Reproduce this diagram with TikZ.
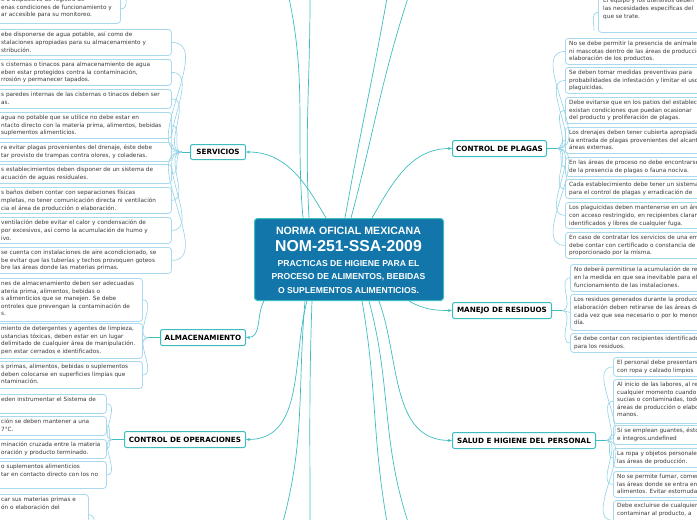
\documentclass[tikz,border=0pt]{standalone}
\usepackage{fontspec}
\setmainfont{DejaVu Sans}
\newfontfamily\arialf{Liberation Sans}
\usetikzlibrary{arrows.meta,calc}
\definecolor{teal1}{HTML}{3DBDC0}
\definecolor{leafc}{HTML}{A9D9EE}
\definecolor{centc}{HTML}{1276AA}
\definecolor{txt}{HTML}{3A3A3A}
\newcommand\leaf[7]{%
  \node[leafbox,minimum width=#4,minimum height=#5,anchor=north west] (#1) at (#2,#3) {};
  \node[leaftext,anchor=north west] at (#6,#3+3) {#7};}
\begin{document}
\begin{tikzpicture}[x=1pt,y=-1pt,
  leafbox/.style={draw=leafc,line width=0.8pt,rounded corners=3pt,fill=white,inner sep=0},
  leaftext/.style={font=\fontsize{5.75}{7.6}\selectfont,text=txt,align=left,inner sep=0},
  branch/.style={draw=teal1,line width=1pt,rounded corners=2pt,fill=white,inner sep=0,
    font=\fontsize{7.2}{8}\selectfont\bfseries,anchor=north west},
  lk/.style={draw=leafc!80!teal1,line width=0.6pt},
  arr/.style={draw=teal1,line width=0.7pt,-{Stealth[length=4pt,width=3pt]}},
  ln/.style={draw=teal1,line width=0.7pt},
  ctext/.style={text=white,inner sep=0}]
\useasboundingbox (0,0) rectangle (697,520);
\clip (0,0) rectangle (697,520);
% center
\node[draw=teal1,line width=1pt,fill=centc,rounded corners=3pt,minimum width=189,minimum height=82,anchor=north west,inner sep=0] (c) at (254,218) {};
\node[ctext,font=\arialf\bfseries\fontsize{10.6}{12}\selectfont] (c1) at (348.5,231) {NORMA OFICIAL MEXICANA};
\node[ctext,font=\arialf\bfseries\fontsize{15.8}{17}\selectfont] (c2) at (348.5,246) {NOM-251-SSA-2009};
\node[ctext,font=\arialf\bfseries\fontsize{8.6}{13.5}\selectfont,align=center] (c3) at (348.5,277) {PRACTICAS DE HIGIENE PARA EL\\PROCESO DE ALIMENTOS, BEBIDAS\\O SUPLEMENTOS ALIMENTICIOS.};
% branch nodes
\node[branch,minimum width=55,minimum height=15] (serv) at (190,144) {SERVICIOS};
\node[branch,minimum width=85,minimum height=16] (alm) at (160,329) {ALMACENAMIENTO};
\node[branch,minimum width=121,minimum height=16] (ops) at (124,431) {CONTROL DE OPERACIONES};
\node[branch,minimum width=94,minimum height=16] (plag) at (452,140) {CONTROL DE PLAGAS};
\node[branch,minimum width=99,minimum height=16] (res) at (452,302) {MANEJO DE RESIDUOS};
\node[branch,minimum width=143,minimum height=16] (sal) at (452,432) {SALUD E HIGIENE DEL PERSONAL};
% center arrows
\draw[arr] ([xshift=-23pt]c.north) to[out=120,in=0] (serv.east);
\draw[arr] ([xshift=23pt]c.north) to[out=60,in=180] (plag.west);
\draw[arr] ([xshift=-85pt]c.south) to[out=-120,in=0] (alm.east);
\draw[arr] ([xshift=-42pt]c.south) to[out=-105,in=0] (ops.east);
\draw[arr] ([xshift=60pt]c.south) to[out=-30,in=180] (res.west);
\draw[arr] ([xshift=30pt]c.south) to[out=-70,in=180] (sal.west);
% long lines off canvas
\coordinate (t1) at (289,-2); \coordinate (t2) at (310,-2);
\coordinate (t3) at (387,-2); \coordinate (t4) at (408,-2);
\coordinate (b1) at (283,522); \coordinate (b2) at (310,522);
\coordinate (b3) at (387,522); \coordinate (b4) at (408,522);
\draw[ln] ([xshift=-46pt]c.north) to[out=95,in=-78] (t1);
\draw[ln] ([xshift=-40pt]c.north) to[out=93,in=-90] (t2);
\draw[ln] ([xshift=-4pt]c.north) to[out=80,in=-100] (t3);
\draw[ln] ([xshift=2pt]c.north) to[out=75,in=-108] (t4);
\draw[ln] ([xshift=-44pt]c.south) to[out=-95,in=75] (b1);
\draw[ln] ([xshift=-37pt]c.south) to[out=-92,in=90] (b2);
\draw[ln] ([xshift=13pt]c.south) to[out=-80,in=100] (b3);
\draw[ln] ([xshift=20pt]c.south) to[out=-75,in=108] (b4);
% SERVICIOS leaves
\leaf{s0}{-150}{-6}{270}{29}{1}{e o dispositivo de registro de\\enas condiciones de funcionamiento y\\ar accesible para su monitoreo.}
\leaf{s1}{-150}{29}{321}{26}{1}{ebe disponerse de agua potable, así como de\\stalaciones apropiadas para su almacenamiento y\\stribución.}
\leaf{s2}{-150}{59}{321}{26}{1}{s cisternas o tinacos para almacenamiento de agua\\eben estar protegidos contra la contaminación,\\rrosión y permanecer tapados.}
\leaf{s3}{-150}{89}{321}{19}{1}{s paredes internas de las cisternas o tinacos deben ser\\as.}
\leaf{s4}{-150}{112}{321}{26}{1}{ agua no potable que se utilice no debe estar en\\ntacto directo con la materia prima, alimentos, bebidas\\suplementos alimenticios.}
\leaf{s5}{-150}{142}{321}{19}{1}{ra evitar plagas provenientes del drenaje, éste debe\\tar provisto de trampas contra olores, y coladeras.}
\leaf{s6}{-150}{164}{321}{19}{1}{s establecimientos deben disponer de un sistema de\\acuación de aguas residuales.}
\leaf{s7}{-150}{187}{321}{26}{1}{s baños deben contar con separaciones físicas\\mpletas, no tener comunicación directa ni ventilación\\cia el área de producción o elaboración.}
\leaf{s8}{-150}{217}{321}{26}{1}{ ventilación debe evitar el calor y condensación de\\por excesivos, así como la acumulación de humo y\\ivo.}
\leaf{s9}{-150}{247}{321}{26}{1}{ se cuenta con instalaciones de aire acondicionado, se\\be evitar que las tuberías y techos provoquen goteos\\bre las áreas donde las materias primas.}
\coordinate (sp) at ($(serv.west)+(-8,0)$);
\draw[ln] (serv.west) -- (sp);
\foreach \b in {s1,s2,s3,s4,s5,s6,s7,s8,s9} \draw[lk] (sp) to[out=180,in=0] (\b.east);
\draw[lk] (s0.east) to[out=0,in=-90] ++(4,-23);
% ALMACENAMIENTO leaves
\leaf{a1}{-150}{278}{292}{43}{1}{nes de almacenamiento deben ser adecuadas\\ateria prima, alimentos, bebidas o\\s alimenticios que se manejen. Se debe\\ontroles que prevengan la contaminación de\\s.}
\leaf{a2}{-150}{323}{292}{35}{1}{miento de detergentes y agentes de limpieza,\\ustancias tóxicas, deben estar en un lugar\\delimitado de cualquier área de manipulación.\\pen estar cerrados e identificados.}
\leaf{a3}{-150}{361}{292}{27}{1}{s primas, alimentos, bebidas o suplementos\\ deben colocarse en superficies limpias que\\ntaminación.}
\coordinate (ap) at ($(alm.west)+(-12,0)$);
\draw[ln] (alm.west) -- (ap);
\foreach \b in {a1,a2,a3} \draw[lk] (ap) to[out=180,in=0] (\b.east);
% CONTROL DE OPERACIONES leaves
\leaf{o1}{-150}{394}{256}{19}{1}{eden instrumentar el Sistema de}
\leaf{o2}{-150}{416}{256}{19}{1}{ción se deben mantener a una\\ 7°C.}
\leaf{o3}{-150}{439}{256}{19}{1}{minación cruzada entre la materia\\oración y producto terminado.}
\leaf{o4}{-150}{461}{256}{27}{1}{o suplementos alimenticios\\tar en contacto directo con los no}
\leaf{o5}{-150}{494}{238}{40}{1}{car sus materias primas e\\ón o elaboración del}
\coordinate (op) at ($(ops.west)+(-12,0)$);
\draw[ln] (ops.west) -- (op);
\foreach \b in {o1,o2,o3,o4} \draw[lk] (op) to[out=180,in=0] (\b.east);
\draw[lk] (o5.east) to[out=0,in=-90] ++(4,30);
% CONTROL DE PLAGAS leaves
\leaf{p0}{598}{-8}{200}{40}{603}{\\El equipo y los utensilios deben\\las necesidades específicas del\\que se trate.}
\leaf{p1}{565}{38}{200}{26}{569}{No se debe permitir la presencia de animales\\ni mascotas dentro de las áreas de producción\\elaboración de los productos.}
\leaf{p2}{565}{67}{200}{26}{569}{Se deben tomar medidas preventivas para\\probabilidades de infestación y limitar el uso\\plaguicidas.}
\leaf{p3}{565}{97}{200}{26}{569}{Debe evitarse que en los patios del establecimiento\\existan condiciones que puedan ocasionar\\del producto y proliferación de plagas.}
\leaf{p4}{565}{127}{200}{26}{569}{Los drenajes deben tener cubierta apropiada\\la entrada de plagas provenientes del alcantarillado\\áreas externas.}
\leaf{p5}{565}{157}{200}{19}{569}{En las áreas de proceso no debe encontrarse\\de la presencia de plagas o fauna nociva.}
\leaf{p6}{565}{179}{200}{19}{569}{Cada establecimiento debe tener un sistema\\para el control de plagas y erradicación de}
\leaf{p7}{565}{202}{200}{26}{569}{Los plaguicidas deben mantenerse en un área\\con acceso restringido, en recipientes claramente\\identificados y libres de cualquier fuga.}
\leaf{p8}{565}{232}{200}{26}{569}{En caso de contratar los servicios de una empresa\\debe contar con certificado o constancia de\\proporcionado por la misma.}
\coordinate (pp) at ($(plag.east)+(10,0)$);
\draw[ln] (plag.east) -- (pp);
\foreach \b in {p1,p2,p3,p4,p5,p6,p7,p8} \draw[lk] (pp) to[out=0,in=180] (\b.west);
\draw[lk] (p0.west) to[out=180,in=90] ++(-4,18);
% MANEJO DE RESIDUOS leaves
\leaf{r1}{570}{264}{200}{27}{574}{No deberá permitirse la acumulación de residuos\\en la medida en que sea inevitable para el\\funcionamiento de las instalaciones.}
\leaf{r2}{570}{294}{200}{36}{574}{Los residuos generados durante la producción\\elaboración deben retirarse de las áreas de\\cada vez que sea necesario o por lo menos una vez al\\día.}
\leaf{r3}{570}{333}{200}{19}{574}{Se debe contar con recipientes identificados\\para los residuos.}
\coordinate (rp) at ($(res.east)+(10,0)$);
\draw[ln] (res.east) -- (rp);
\foreach \b in {r1,r2,r3} \draw[lk] (rp) to[out=0,in=180] (\b.west);
% SALUD leaves
\leaf{h1}{613}{357}{200}{19}{617}{El personal debe presentarse\\con ropa y calzado limpios}
\leaf{h2}{613}{379}{200}{44}{617}{Al inicio de las labores, al regresar\\cualquier momento cuando\\sucias o contaminadas, todo\\áreas de producción o elaboración\\manos.}
\leaf{h3}{613}{425}{200}{19}{617}{Si se emplean guantes, éstos\\e íntegros.undefined}
\leaf{h4}{613}{448}{200}{19}{617}{La ropa y objetos personales\\las áreas de producción.}
\leaf{h5}{613}{471}{200}{26}{617}{No se permite fumar, comer\\las áreas donde se entra en\\alimentos. Evitar estornudar}
\leaf{h6}{613}{500}{200}{40}{617}{Debe excluirse de cualquier\\contaminar al producto, a}
\coordinate (hp) at ($(sal.east)+(10,0)$);
\draw[ln] (sal.east) -- (hp);
\foreach \b in {h1,h2,h3,h4,h5,h6} \draw[lk] (hp) to[out=0,in=180] (\b.west);
\end{tikzpicture}
\end{document}
